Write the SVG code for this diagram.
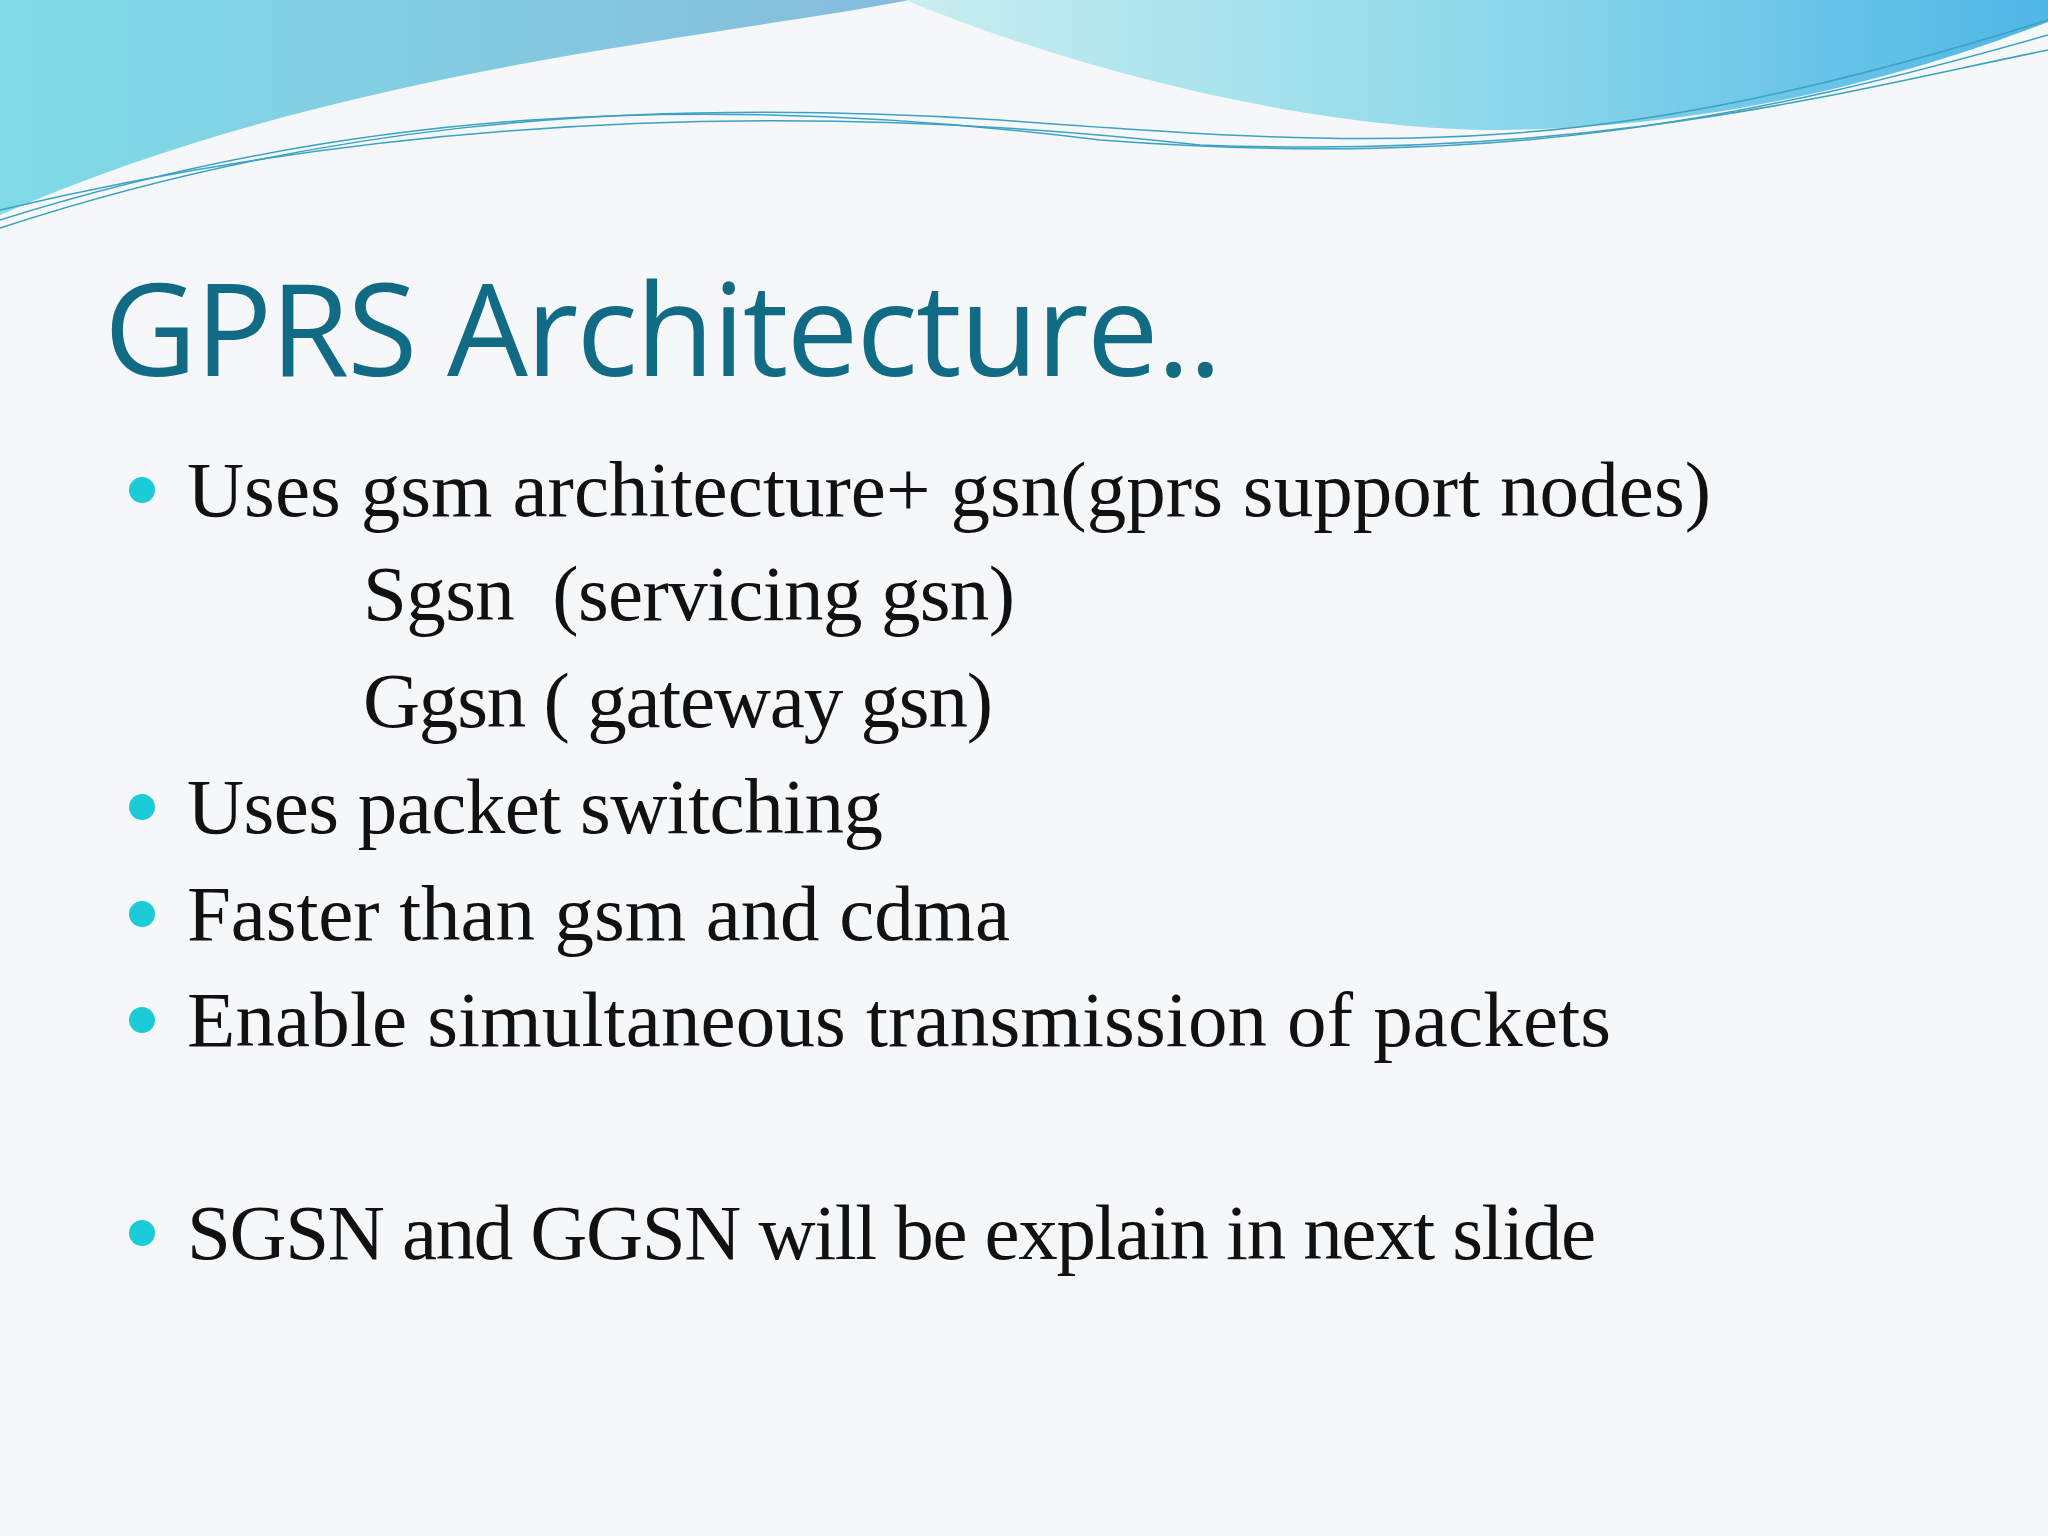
<svg xmlns="http://www.w3.org/2000/svg" width="2048" height="1536" viewBox="0 0 2048 1536">
<defs>
<linearGradient id="g1" x1="0" y1="0" x2="1" y2="0"><stop offset="0" stop-color="#7fdbe6"/><stop offset="1" stop-color="#86bcdc"/></linearGradient>
<linearGradient id="g2" x1="0" y1="0" x2="1" y2="0"><stop offset="0" stop-color="#c9eef0"/><stop offset="0.5" stop-color="#8fd9ea"/><stop offset="1" stop-color="#4fb6e6"/></linearGradient>
<style>
.b{font-family:"Liberation Serif","DejaVu Serif",serif;font-size:79px;fill:#111}
.d{fill:#1ccbd8}
.l{fill:none;stroke:#3aa2c2;stroke-width:1.5}
</style>
</defs>
<rect width="2048" height="1536" fill="#f6f7f9"/>
<g id="header">
<path d="M0,0 H910 C700,40 330,70 0,215 Z" fill="url(#g1)"/>
<path d="M905,0 C1100,80 1330,130 1500,130 C1750,128 1950,60 2048,22 V0 Z" fill="url(#g2)"/>
<path class="l" d="M0,228 C300,130 600,95 1000,120 C1400,150 1600,160 2048,20"/>
<path class="l" d="M0,220 C350,110 700,90 1100,140 C1500,170 1750,120 2048,35"/>
<path class="l" d="M0,210 C400,115 800,100 1200,145 C1600,160 1850,90 2048,50"/>
</g>
<g id="title"><text x="104" y="376" font-family="Open Sans, sans-serif" font-size="128" fill="#116b84" textLength="1118">GPRS Architecture..</text></g>
<g id="bullets">
<circle class="d" cx="142" cy="490" r="13"/>
<text class="b" x="187" y="516" textLength="1524">Uses gsm architecture+ gsn(gprs support nodes)</text>
<text class="b" x="363" y="620" textLength="652" xml:space="preserve">Sgsn  (servicing gsn)</text>
<text class="b" x="363" y="727" textLength="630">Ggsn ( gateway gsn)</text>
<circle class="d" cx="142" cy="807" r="13"/>
<text class="b" x="187" y="833" textLength="696">Uses packet switching</text>
<circle class="d" cx="142" cy="914" r="13"/>
<text class="b" x="187" y="940" textLength="823">Faster than gsm and cdma</text>
<circle class="d" cx="142" cy="1020" r="13"/>
<text class="b" x="187" y="1046" textLength="1424">Enable simultaneous transmission of packets</text>
<circle class="d" cx="142" cy="1233" r="13"/>
<text class="b" x="187" y="1259" textLength="1409">SGSN and GGSN will be explain in next slide</text>
</g>
</svg>
